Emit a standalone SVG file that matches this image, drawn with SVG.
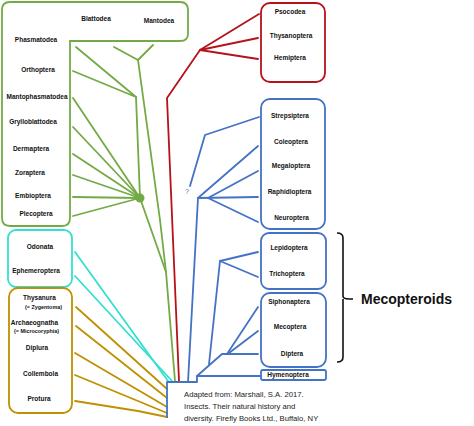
<svg xmlns="http://www.w3.org/2000/svg" width="474" height="426" viewBox="0 0 474 426">
<style>
.lbl{font-family:"Liberation Sans",Arial,sans-serif;font-weight:bold;font-size:6.5px;fill:#111;text-anchor:middle}
.sm{font-size:5.4px}
.cap{font-family:"Liberation Sans",Arial,sans-serif;font-size:7.7px;fill:#222}
.g{stroke:#73AA46;fill:none;stroke-width:1.8}
.r{stroke:#B5121B;fill:none;stroke-width:1.8}
.b{stroke:#4472C4;fill:none;stroke-width:1.8}
.c{stroke:#33E0D0;fill:none;stroke-width:1.8}
.o{stroke:#BF9000;fill:none;stroke-width:1.8}
</style>
<rect width="474" height="426" fill="#fff"/>
<g id="connectors" stroke-linecap="round" stroke-linejoin="round">
<!-- green -->
<polyline class="g" points="114,47 138,60 153,45"/>
<polyline class="g" points="138,60 160,220 166,272 175,381"/>
<polyline class="g" points="76,47 136,97 73,71"/>
<polyline class="g" points="136,97 140,198 166,272"/>
<line class="g" x1="73" y1="98" x2="140" y2="198"/>
<line class="g" x1="73" y1="127" x2="140" y2="198"/>
<line class="g" x1="73" y1="154" x2="140" y2="198"/>
<line class="g" x1="73" y1="175" x2="140" y2="198"/>
<line class="g" x1="73" y1="197" x2="140" y2="198"/>
<line class="g" x1="73" y1="216" x2="140" y2="198"/>
<circle cx="140" cy="198" r="4.5" fill="#73AA46"/>
<!-- red -->
<polyline class="r" points="179,381 167,98 200,50 259,14"/>
<line class="r" x1="200" y1="50" x2="258" y2="38"/>
<line class="r" x1="200" y1="50" x2="258" y2="59"/>
<!-- cyan -->
<line class="c" x1="75" y1="252" x2="168" y2="381"/>
<line class="c" x1="75" y1="276" x2="172" y2="381"/>
<!-- gold -->
<line class="o" x1="76" y1="307" x2="167" y2="389"/>
<line class="o" x1="76" y1="326" x2="167" y2="398"/>
<line class="o" x1="75" y1="353" x2="167" y2="407"/>
<line class="o" x1="75" y1="375" x2="167" y2="413"/>
<polyline class="o" points="75,401 138,411 167,417"/>
<!-- blue -->
<polyline class="b" points="188,382 198,198 258,146"/>
<line class="b" x1="198" y1="198" x2="258" y2="197"/>
<polyline class="b" points="258,171 208,198 258,222"/>
<polyline class="b" points="190,186 205,135 259,117"/>
<polyline class="b" points="197,376 222,354 258,354"/>
<line class="b" x1="227" y1="354" x2="258" y2="307"/>
<line class="b" x1="229" y1="353" x2="258" y2="331"/>
<polyline class="b" points="209,364 220,261 258,252"/>
<line class="b" x1="220" y1="261" x2="258" y2="277"/>
<line class="b" x1="197" y1="376" x2="260" y2="376"/>
<polyline class="b" points="167,418 167,382 197,382 197,376" stroke-linecap="butt"/>
</g>
<g id="polyneoptera">
<path class="g" d="M10,2 H180 Q188,2 188,10 V34 Q188,41 180,41 H70 V218 Q70,226 62,226 H10 Q2,226 2,218 V10 Q2,2 10,2 Z" stroke-width="2"/>
<text class="lbl" x="96" y="21.4">Blattodea</text>
<text class="lbl" x="159" y="23.4">Mantodea</text>
<text class="lbl" x="36" y="42.4">Phasmatodea</text>
<text class="lbl" x="38" y="72.4">Orthoptera</text>
<text class="lbl" x="37" y="99.4">Mantophasmatodea</text>
<text class="lbl" x="33" y="124.4">Grylloblattodea</text>
<text class="lbl" x="31" y="151.4">Dermaptera</text>
<text class="lbl" x="30" y="175.4">Zoraptera</text>
<text class="lbl" x="33" y="198.4">Embioptera</text>
<text class="lbl" x="36" y="216.4">Plecoptera</text>
</g>
<g id="palaeoptera">
<rect class="c" x="8" y="230" width="64" height="57" rx="8" stroke-width="2"/>
<text class="lbl" x="40" y="249.4">Odonata</text>
<text class="lbl" x="36" y="273.4">Ephemeroptera</text>
</g>
<g id="apterygota">
<rect class="o" x="9" y="288" width="63" height="125" rx="9" stroke-width="2"/>
<text class="lbl" x="39.5" y="300.4">Thysanura</text>
<text class="lbl sm" x="43.5" y="309">(= Zygentoma)</text>
<text class="lbl" x="34.5" y="325.4">Archaeognatha</text>
<text class="lbl sm" x="36.5" y="333">(= Microcoryphia)</text>
<text class="lbl" x="37" y="350.4">Diplura</text>
<text class="lbl" x="40.5" y="376.4">Collembola</text>
<text class="lbl" x="39" y="401.4">Protura</text>
</g>
<g id="paraneoptera">
<rect class="r" x="261" y="3" width="64" height="79" rx="9" stroke-width="2"/>
<text class="lbl" x="290" y="14.4">Psocodea</text>
<text class="lbl" x="291" y="38.4">Thysanoptera</text>
<text class="lbl" x="290" y="60.4">Hemiptera</text>
</g>
<g id="neuropterida">
<rect class="b" x="261" y="99" width="64" height="130" rx="9" stroke-width="2"/>
<text class="lbl" x="290" y="118.4">Strepsiptera</text>
<text class="lbl" x="291" y="144.4">Coleoptera</text>
<text class="lbl" x="291" y="168.4">Megaloptera</text>
<text class="lbl" x="289.5" y="194.4">Raphidioptera</text>
<text class="lbl" x="291.5" y="220.4">Neuroptera</text>
<text x="187" y="194" font-family="Liberation Sans,Arial,sans-serif" font-size="7" fill="#4472C4" text-anchor="middle">?</text>
</g>
<g id="amphiesmenoptera">
<rect class="b" x="261" y="233" width="65" height="56" rx="8" stroke-width="2"/>
<text class="lbl" x="289" y="250.4">Lepidoptera</text>
<text class="lbl" x="287" y="276.4">Trichoptera</text>
</g>
<g id="antliophora">
<rect class="b" x="261" y="293" width="65" height="74" rx="9" stroke-width="2"/>
<text class="lbl" x="289" y="304.4">Siphonaptera</text>
<text class="lbl" x="290" y="329.4">Mecoptera</text>
<text class="lbl" x="292" y="356.4">Diptera</text>
</g>
<g id="hymenoptera">
<rect class="b" x="261" y="370" width="65" height="10" rx="2" stroke-width="1.8"/>
<text class="lbl" x="288" y="377.4">Hymenoptera</text>
</g>
<g id="mecopteroids">
<path d="M337,233 Q343,233 343,238 V296 Q343,299 349,299 H353 M343,299 Q343,302 343,304 V357 Q343,362 337,362" fill="none" stroke="#111" stroke-width="1.6"/>
<text x="361" y="304" font-family="Liberation Sans,Arial,sans-serif" font-weight="bold" font-size="14" fill="#111">Mecopteroids</text>
</g>
<g id="caption">
<text class="cap" x="184" y="397">Adapted from: Marshall, S.A. 2017.</text>
<text class="cap" x="184" y="409">Insects. Their natural history and</text>
<text class="cap" x="184" y="421">diversity. Firefly Books Ltd., Buffalo, NY</text>
</g>
</svg>
